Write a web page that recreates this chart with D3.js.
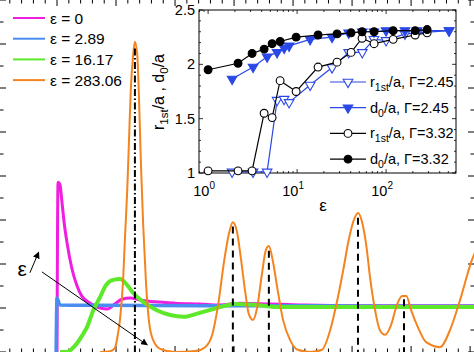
<!DOCTYPE html>
<html>
<head>
<meta charset="utf-8">
<script src="https://cdn.jsdelivr.net/npm/d3@7"></script>
<style>
  html, body { margin: 0; padding: 0; background: #fff; }
  svg { display: block; font-family: "Liberation Sans", Arial, sans-serif; }
</style>
</head>
<body>
<svg class="chart" width="474" height="352"></svg>
<script>
// ---- main plot data: g(r) curves, r in units of a ----
const magentaR = [1.0, 1.017, 1.05, 1.085, 1.12, 1.17, 1.25, 1.34, 1.42, 1.56, 1.73, 1.86, 1.98, 2.10, 2.24, 2.41, 2.66, 3.0, 3.42, 3.76, 4.10, 4.61, 5.12, 5.97, 6.81, 8.1];
const magentaG = [0, 3.86, 3.80, 3.39, 2.95, 2.48, 1.91, 1.50, 1.27, 1.11, 1.0, 0.98, 1.09, 1.20, 1.23, 1.18, 1.14, 1.11, 1.09, 1.07, 1.11, 1.09, 1.07, 1.05, 1.05, 1.05];

const blueR = [0.985, 1.0, 1.05, 1.73, 3.42, 5.12, 6.81, 8.1];
const blueG = [0, 1.23, 1.07, 1.06, 1.05, 1.05, 1.04, 1.04];

const greenR = [1.05, 1.17, 1.25, 1.34, 1.42, 1.51, 1.61, 1.73, 1.83, 1.95, 2.07, 2.19, 2.29, 2.46, 2.69, 2.92, 3.14, 3.42, 3.71, 4.02, 4.36, 4.78, 5.63, 6.81, 8.1];
const greenG = [0, 0, 0.07, 0.2, 0.36, 0.57, 0.93, 1.25, 1.52, 1.64, 1.66, 1.52, 1.34, 1.14, 0.95, 0.84, 0.8, 0.89, 1.0, 1.09, 1.07, 1.02, 1.02, 1.02, 1.02];

const orangeR = [1.73, 1.90, 1.98, 2.03, 2.07, 2.12, 2.15, 2.19, 2.22, 2.25, 2.29, 2.32, 2.36, 2.39, 2.42, 2.46, 2.51, 2.56, 2.63, 2.75, 3.00, 3.34, 3.51, 3.63, 3.73, 3.83, 3.92, 3.98, 4.05, 4.12, 4.19, 4.25, 4.32, 4.39, 4.47, 4.54, 4.59, 4.66, 4.73, 4.83, 4.95, 5.08, 5.29, 5.49, 5.63, 5.75, 5.85, 5.95, 6.03, 6.10, 6.17, 6.24, 6.31, 6.39, 6.47, 6.56, 6.66, 6.76, 6.85, 6.92, 7.00, 7.12, 7.25, 7.49, 7.66, 7.83, 8.03, 8.14];
const orangeG = [0, 0.02, 0.09, 0.39, 0.77, 1.64, 2.55, 3.68, 4.82, 5.95, 6.75, 7.05, 6.75, 5.73, 4.36, 2.89, 1.52, 0.68, 0.27, 0.07, 0, 0.02, 0.11, 0.39, 1.07, 2.05, 2.73, 2.95, 2.73, 2.09, 1.36, 0.86, 0.73, 1.0, 1.75, 2.32, 2.41, 2.05, 1.48, 0.73, 0.27, 0.05, 0, 0.05, 0.5, 1.18, 1.86, 2.59, 3.0, 3.16, 2.95, 2.43, 1.64, 0.95, 0.5, 0.39, 0.61, 1.07, 1.27, 1.27, 0.95, 0.55, 0.23, 0.11, 0.5, 1.18, 2.09, 2.43];

// lattice peak positions (dashed lines) and their heights
const peakR = [2.32, 3.98, 4.59, 6.10, 6.88];
const peakG = [6.9, 2.85, 2.3, 3.05, 1.2];

const mainLabels = ["ε = 0", "ε = 2.89", "ε = 16.17", "ε = 283.06"];
const mainColors = ["#f01ee0", "#4a8cf0", "#5ee82a", "#f5841e"];

// ---- inset data ----
const epsBlack = [1.0, 2.17, 3.12, 4.26, 5.24, 6.44, 9.75, 17.2, 28.1, 40.4, 53.7, 73.3, 120, 212, 289];
const d0Black = [1.95, 2.01, 2.10, 2.14, 2.19, 2.21, 2.25, 2.27, 2.28, 2.29, 2.30, 2.30, 2.31, 2.31, 2.32];
const r1Black = [1.02, 1.02, 1.02, 1.55, 1.51, 1.85, 1.75, 1.975, 2.02, 2.11, 2.24, 2.19, 2.23, 2.27, 2.29];

const epsBlue = [1.86, 3.2, 4.6, 5.96, 7.14, 8.13, 14, 24.7, 38, 54, 73, 100, 163, 223, 510];
const d0Blue = [1.865, 1.975, 2.07, 2.11, 2.15, 2.17, 2.23, 2.25, 2.29, 2.30, 2.30, 2.31, 2.31, 2.31, 2.31];
const r1Blue = [1.01, 1.01, 1.01, 1.67, 1.68, 1.65, 1.81, 1.97, 2.11, 2.11, 2.23, 2.22, 2.28, 2.29, 2.31];

const insetYTicks = [1, 1.5, 2, 2.5];
const insetXTicks = [1, 10, 100];

const svg = d3.select(".chart");
const width = 474;
const height = 352;

const x = d3.scaleLinear().domain([0, 8.1]).range([-2, 476]);
const y = d3.scaleLinear().domain([0, 8]).range([352, 0]);

const mainG = svg.append("g");

// arrow marker
svg.append("defs").append("marker")
  .attr("id", "head")
  .attr("viewBox", "0 0 10 10")
  .attr("refX", 9).attr("refY", 5)
  .attr("markerWidth", 7).attr("markerHeight", 7)
  .attr("markerUnits", "userSpaceOnUse")
  .attr("orient", "auto")
  .append("path")
  .attr("d", "M0,0 L10,5 L0,10 z")
  .attr("fill", "black");

// frame ticks (axes lines themselves are outside the picture)
const xt = d3.range(0, 41).map((i) => ({ v: i / 5, major: i % 5 === 0 }));
const yt = d3.range(0, 17).map((i) => ({ v: i / 2, major: i % 2 === 0 }));

mainG.selectAll(".xtb").data(xt).enter().append("line")
  .attr("x1", (d) => x(d.v)).attr("x2", (d) => x(d.v))
  .attr("y1", height).attr("y2", (d) => height - (d.major ? 6 : 3.5))
  .attr("stroke", "black");
mainG.selectAll(".xtt").data(xt).enter().append("line")
  .attr("x1", (d) => x(d.v)).attr("x2", (d) => x(d.v))
  .attr("y1", 0).attr("y2", (d) => (d.major ? 6 : 3.5))
  .attr("stroke", "black");
mainG.selectAll(".ytl").data(yt).enter().append("line")
  .attr("y1", (d) => y(d.v)).attr("y2", (d) => y(d.v))
  .attr("x1", 0).attr("x2", (d) => (d.major ? 6 : 3.5))
  .attr("stroke", "black");
mainG.selectAll(".ytr").data(yt).enter().append("line")
  .attr("y1", (d) => y(d.v)).attr("y2", (d) => y(d.v))
  .attr("x1", width).attr("x2", (d) => width - (d.major ? 6 : 3.5))
  .attr("stroke", "black");

const line = d3.line()
  .x((d) => x(d[0]))
  .y((d) => y(d[1]))
  .curve(d3.curveMonotoneX);

const curves = [
  { data: d3.zip(magentaR, magentaG), color: mainColors[0], w: 3 },
  { data: d3.zip(blueR, blueG), color: mainColors[1], w: 3.5 },
  { data: d3.zip(greenR, greenG), color: mainColors[2], w: 4 },
  { data: d3.zip(orangeR, orangeG), color: mainColors[3], w: 2 },
];

mainG.selectAll(".curve").data(curves).enter().append("path")
  .attr("d", (d) => line(d.data))
  .attr("fill", "none")
  .attr("stroke", (d) => d.color)
  .attr("stroke-width", (d) => d.w)
  .attr("stroke-linejoin", "round");

// peak position lines
mainG.selectAll(".peak").data(d3.zip(peakR, peakG)).enter().append("line")
  .attr("x1", (d) => x(d[0])).attr("x2", (d) => x(d[0]))
  .attr("y1", (d) => y(d[1])).attr("y2", height)
  .attr("stroke", "black")
  .attr("stroke-width", 2)
  .attr("stroke-dasharray", (d, i) => (i === 0 ? "7,2.5,1.5,2.5" : "7,5"));

// epsilon arrows
mainG.append("line")
  .attr("x1", x(0.745)).attr("y1", y(1.82))
  .attr("x2", x(2.53)).attr("y2", y(0.16))
  .attr("stroke", "black").attr("stroke-width", 1)
  .attr("marker-end", "url(#head)");
mainG.append("line")
  .attr("x1", x(0.54)).attr("y1", y(1.8))
  .attr("x2", x(0.69)).attr("y2", y(2.27))
  .attr("stroke", "black").attr("stroke-width", 1)
  .attr("marker-end", "url(#head)");
mainG.append("text")
  .attr("x", x(0.33)).attr("y", y(1.72))
  .attr("font-size", 21)
  .text("ε");

// main legend
const leg = svg.append("g");
const legRows = leg.selectAll("g").data(mainLabels).enter().append("g")
  .attr("transform", (d, i) => `translate(0, ${18 + i * 20.7})`);
legRows.append("line")
  .attr("x1", 13).attr("x2", 45)
  .attr("stroke", (d, i) => mainColors[i])
  .attr("stroke-width", 2);
legRows.append("text")
  .attr("x", 50).attr("y", 5.5)
  .attr("font-size", 15.5)
  .text((d) => d);

// ---- inset ----
const ix = d3.scaleLog().domain([0.79, 610]).range([199, 456]);
const iy = d3.scaleLinear().domain([1, 2.5]).range([173, 10]);
const inset = svg.append("g");

inset.append("rect")
  .attr("x", 199).attr("y", 10)
  .attr("width", 257).attr("height", 163)
  .attr("fill", "white").attr("stroke", "black").attr("stroke-width", 1);

const ixt = [];
[0, 1, 2].forEach((k) => {
  d3.range(1, 10).forEach((m) => {
    const v = m * Math.pow(10, k);
    if (v <= 610) ixt.push({ v, major: m === 1 });
  });
});
ixt.push({ v: 0.8, major: false }, { v: 0.9, major: false });
const iyt = d3.range(0, 16).map((i) => ({ v: 1 + i / 10, major: i % 5 === 0 }));

inset.selectAll(".ixb").data(ixt).enter().append("line")
  .attr("x1", (d) => ix(d.v)).attr("x2", (d) => ix(d.v))
  .attr("y1", 173).attr("y2", (d) => 173 - (d.major ? 4 : 2))
  .attr("stroke", "black").attr("stroke-width", 0.8);
inset.selectAll(".ixt").data(ixt).enter().append("line")
  .attr("x1", (d) => ix(d.v)).attr("x2", (d) => ix(d.v))
  .attr("y1", 10).attr("y2", (d) => 10 + (d.major ? 4 : 2))
  .attr("stroke", "black").attr("stroke-width", 0.8);
inset.selectAll(".iyl").data(iyt).enter().append("line")
  .attr("y1", (d) => iy(d.v)).attr("y2", (d) => iy(d.v))
  .attr("x1", 199).attr("x2", (d) => 199 + (d.major ? 4 : 2))
  .attr("stroke", "black").attr("stroke-width", 0.8);
inset.selectAll(".iyr").data(iyt).enter().append("line")
  .attr("y1", (d) => iy(d.v)).attr("y2", (d) => iy(d.v))
  .attr("x1", 456).attr("x2", (d) => 456 - (d.major ? 4 : 2))
  .attr("stroke", "black").attr("stroke-width", 0.8);

// tick labels
inset.selectAll(".iyl-t").data(insetYTicks).enter().append("text")
  .attr("x", 195).attr("y", (d) => iy(d) + 5)
  .attr("text-anchor", "end")
  .attr("font-size", 14.5)
  .text((d) => d);

const xl = inset.selectAll(".ixl-t").data(insetXTicks).enter().append("text")
  .attr("x", (d) => ix(d) - 4).attr("y", 196)
  .attr("text-anchor", "middle")
  .attr("font-size", 14.5);
xl.append("tspan").text("10");
xl.append("tspan")
  .attr("dy", -7).attr("font-size", 10)
  .text((d) => Math.round(Math.log10(d)));

inset.append("text")
  .attr("x", 323).attr("y", 211)
  .attr("text-anchor", "middle")
  .attr("font-size", 17)
  .text("ε");

const ylab = inset.append("text")
  .attr("transform", "translate(164, 92) rotate(-90)")
  .attr("text-anchor", "middle")
  .attr("font-size", 16);
ylab.append("tspan").text("r");
ylab.append("tspan").attr("dy", 4).attr("font-size", 11.5).text("1st");
ylab.append("tspan").attr("dy", -4).text("/a , d");
ylab.append("tspan").attr("dy", 4).attr("font-size", 11.5).text("0");
ylab.append("tspan").attr("dy", -4).text("/a");

const blue = "#2a48e6";
const tri = d3.symbol().type(d3.symbolTriangle).size(40);
const iline = d3.line().x((d) => ix(d[0])).y((d) => iy(d[1]));

const series = [
  { eps: epsBlue, vals: r1Blue, color: blue, shape: "tri", fill: "white", label: ["r", "1st", "/a, Γ=2.45"] },
  { eps: epsBlue, vals: d0Blue, color: blue, shape: "tri", fill: blue, label: ["d", "0", "/a, Γ=2.45"] },
  { eps: epsBlack, vals: r1Black, color: "black", shape: "circle", fill: "white", label: ["r", "1st", "/a, Γ=3.32"] },
  { eps: epsBlack, vals: d0Black, color: "black", shape: "circle", fill: "black", label: ["d", "0", "/a, Γ=3.32"] },
];

function drawMarker(sel, s) {
  if (s.shape === "tri") {
    sel.append("path")
      .attr("d", tri)
      .attr("transform", "rotate(180)")
      .attr("fill", s.fill)
      .attr("stroke", s.color)
      .attr("stroke-width", 1.1);
  } else {
    sel.append("circle")
      .attr("r", 3.9)
      .attr("fill", s.fill)
      .attr("stroke", s.color)
      .attr("stroke-width", 1.1);
  }
}

series.forEach((s) => {
  const pts = d3.zip(s.eps, s.vals);
  inset.append("path")
    .attr("d", iline(pts))
    .attr("fill", "none")
    .attr("stroke", s.color)
    .attr("stroke-width", 1.2);
  inset.selectAll(null).data(pts).enter().append("g")
    .attr("transform", (d) => `translate(${ix(d[0])}, ${iy(d[1])})`)
    .each(function () { drawMarker(d3.select(this), s); });
});

// inset legend
series.forEach((s, i) => {
  const row = inset.append("g").attr("transform", `translate(0, ${82 + i * 25.7})`);
  row.append("line")
    .attr("x1", 330).attr("x2", 366)
    .attr("stroke", s.color).attr("stroke-width", 1.2);
  drawMarker(row.append("g").attr("transform", "translate(348, 0)"), s);
  const t = row.append("text").attr("x", 370).attr("y", 5).attr("font-size", 14.5);
  t.append("tspan").text(s.label[0]);
  t.append("tspan").attr("dy", 4).attr("font-size", 10.5).text(s.label[1]);
  t.append("tspan").attr("dy", -4).text(s.label[2]);
});
</script>
</body>
</html>
